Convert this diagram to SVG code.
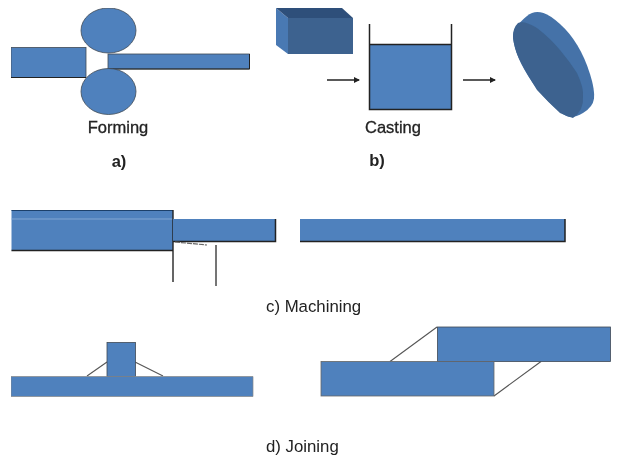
<svg xmlns="http://www.w3.org/2000/svg" width="640" height="455" viewBox="0 0 640 455">
<style>
.b{fill:#4f81bd}
.e{stroke:#404a55;stroke-width:.8}
.l{fill:none;stroke:#555;stroke-width:1.1}
.k{fill:none;stroke:#222;stroke-width:1.5}
text{font-family:"Liberation Sans",Arial,sans-serif;fill:#222}
.s{font-size:16.800px}
.f{font-size:16.500px;stroke:#222;stroke-width:.3}
.bd{font-size:16.500px;font-weight:bold}
</style>
<defs>
<marker id="ah" markerWidth="6" markerHeight="6" refX="5" refY="3" orient="auto" markerUnits="userSpaceOnUse"><path d="M0 0L6 3L0 6z" fill="#222"/></marker>
<filter id="soft" x="0" y="0" width="1" height="1"><feGaussianBlur stdDeviation=".45"/></filter>
</defs>
<rect width="640" height="455" fill="#fff"/>
<g filter="url(#soft)">
<g id="forming">
<rect class="b e" x="11" y="47.500" width="75" height="30"/>
<path d="M11 77.500H86" stroke="#222" stroke-width="1"/>
<rect class="b e" x="108" y="54" width="141.500" height="15"/>
<path d="M108 69H249.500V54" fill="none" stroke="#222" stroke-width="1"/>
<ellipse class="b e" cx="108.500" cy="30.500" rx="27.500" ry="22.500"/>
<ellipse class="b e" cx="108.500" cy="91.500" rx="27.500" ry="23"/>
<text class="f" x="118" y="133" text-anchor="middle">Forming</text>
<text class="bd" x="119" y="167" text-anchor="middle">a)</text>
</g>
<g id="block">
<path d="M276 8L288 18V54L276 45z" fill="#4a79b3"/>
<path d="M276 8H342L353 18H288z" fill="#2f4f7a"/>
<rect x="288" y="18" width="65" height="36" fill="#3c628f"/>
</g>
<g id="casting">
<rect class="b" x="369.500" y="44.500" width="82" height="65"/>
<path class="k" d="M369.500 24V109.500H451.500V24M369.500 44.500H451.500"/>
<text class="f" x="393" y="133" text-anchor="middle">Casting</text>
<text class="bd" x="377" y="166" text-anchor="middle">b)</text>
</g>
<g id="disc">
<path fill="#4472a8" d="M513 36Q513 30 520 22.500Q527 15 532 13Q537 11 543.500 13Q550 15 560 24Q570 33 577.500 45.500Q585 58 590 74Q595 90 594 98.500Q593 107 583 113Q573 119 566.500 116Q560 113 548.500 101.500Q537 90 528.500 76.500Q520 63 516.500 52.500Q513 42 513 36z"/>
<path fill="#3c628f" d="M513 36Q513 28 518 23Q524 20 537 28Q550 38 560 50Q570 62 577 73Q584 88 583 97Q584 110 573 118Q566 116 560 113Q548 102 537 90Q520 63 516.500 52.500Q513 42 513 36z"/>
</g>
<g id="connectors">
<path class="k" marker-end="url(#ah)" d="M327 80H359"/>
<path class="k" marker-end="url(#ah)" d="M463 80H495"/>
</g>
<g id="machining">
<rect class="b" x="11.500" y="210" width="161.500" height="40.500"/>
<path d="M11.500 219H173" stroke="#8fb0d8" stroke-width=".8"/>
<path d="M11.500 210.500H173" stroke="#1f3f6a" stroke-width="1" fill="none"/>
<path d="M173 210V282" stroke="#222" stroke-width="1.400" fill="none"/>
<path d="M11.500 250.500H173" stroke="#222" stroke-width="1.500"/>
<rect class="b" x="173" y="219" width="102.500" height="22.500"/>
<path class="k" d="M173 241.500H275.500V219"/>
<path d="M175 242L207 245" stroke="#666" stroke-width="1.200" stroke-dasharray="5 1"/>
<path d="M216 245V286" stroke="#666" stroke-width="1.800"/>
<rect class="b" x="300" y="219" width="265" height="22.500"/>
<path class="k" d="M300 241.500H565V219"/>
<text class="s" x="266" y="312">c) Machining</text>
</g>
<g id="joint-t">
<path class="l" d="M87 376L107 362M135 362L163 376"/>
<rect class="b e" x="107" y="342.500" width="28.500" height="34"/>
<rect class="b" x="11" y="376.500" width="242" height="20"/>
<path d="M11 376.500H253V396.500H11z" fill="none" stroke="#888" stroke-width=".7"/>
</g>
<g id="joint-lap">
<path class="l" d="M390 361.500L437 327M494 396L541 361.500"/>
<rect class="b e" x="437.500" y="327" width="173" height="34.500"/>
<rect class="b" x="321" y="361.500" width="173" height="34.500" stroke="#666" stroke-width=".8"/>
<text class="s" x="266" y="452">d) Joining</text>
</g>
</g>
</svg>
